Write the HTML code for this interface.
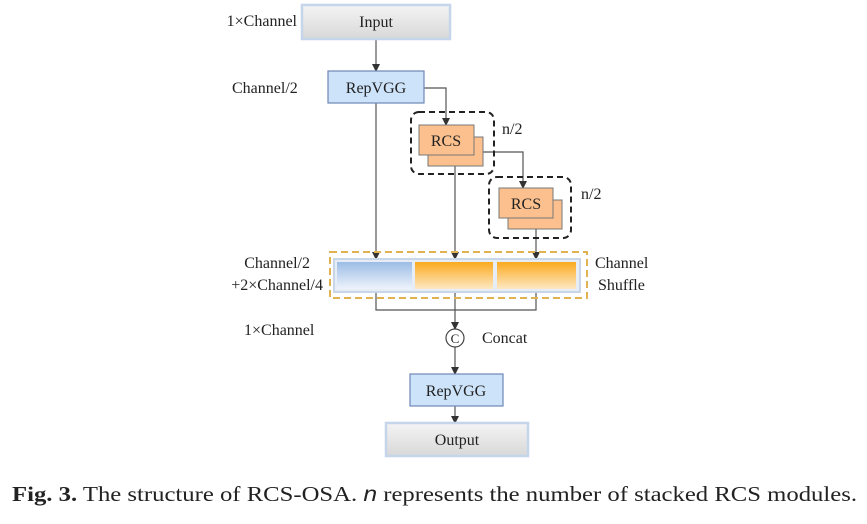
<!DOCTYPE html>
<html><head><meta charset="utf-8"><style>
html,body{margin:0;padding:0;background:#fff;}
svg{display:block;}
text{font-family:"Liberation Serif",serif;fill:#222;}
</style></head><body>
<svg width="867" height="524" viewBox="0 0 867 524" xmlns="http://www.w3.org/2000/svg">
<defs>
<linearGradient id="gray" x1="0" y1="0" x2="0" y2="1"><stop offset="0" stop-color="#f4f4f4"/><stop offset="1" stop-color="#d8d8d8"/></linearGradient>
<linearGradient id="blu" x1="0" y1="0" x2="0" y2="1"><stop offset="0" stop-color="#9dbde6"/><stop offset="1" stop-color="#eef3fb"/></linearGradient>
<linearGradient id="org" x1="0" y1="0" x2="0" y2="1"><stop offset="0" stop-color="#fbaa1e"/><stop offset="1" stop-color="#fde8c4"/></linearGradient>
<marker id="ar" markerWidth="8" markerHeight="8" refX="7" refY="4" orient="auto" markerUnits="userSpaceOnUse"><path d="M0,0 L8,4 L0,8 Z" fill="#333"/></marker>
</defs>
<g stroke="#555" stroke-width="1.2" fill="none">
<line x1="376" y1="39" x2="376" y2="71" marker-end="url(#ar)"/>
<polyline points="424,88 446,88 446,125" marker-end="url(#ar)"/>
<polyline points="483,152 523,152 523,188" marker-end="url(#ar)"/>
<line x1="376" y1="103" x2="376" y2="259" marker-end="url(#ar)"/>
<line x1="455" y1="166" x2="455" y2="259" marker-end="url(#ar)"/>
<line x1="536" y1="229" x2="536" y2="259" marker-end="url(#ar)"/>
<polyline points="376,292 376,310 536,310 536,292"/>
<line x1="455" y1="292" x2="455" y2="329" marker-end="url(#ar)"/>
<line x1="455" y1="347" x2="455" y2="374" marker-end="url(#ar)"/>
<line x1="455" y1="406" x2="455" y2="423" marker-end="url(#ar)"/>
</g>
<rect x="302" y="5" width="148" height="34" fill="url(#gray)" stroke="#c5d6ea" stroke-width="2.5"/>
<text x="376" y="27" font-size="16" text-anchor="middle">Input</text>
<rect x="328" y="71" width="96" height="32" fill="#cde3f9" stroke="#6f87b5" stroke-width="1.2"/>
<text x="376" y="93" font-size="16" text-anchor="middle">RepVGG</text>
<rect x="411" y="112" width="83" height="62" rx="8" fill="none" stroke="#222" stroke-width="2" stroke-dasharray="6,4"/>
<rect x="428" y="137" width="55" height="29" fill="#fbc08e" stroke="#777"/>
<rect x="419" y="125" width="55" height="30" fill="#fbc08e" stroke="#777"/>
<text x="446" y="146" font-size="16" text-anchor="middle">RCS</text>
<text x="502" y="134" font-size="16">n/2</text>
<rect x="489" y="177" width="82" height="61" rx="8" fill="none" stroke="#222" stroke-width="2" stroke-dasharray="6,4"/>
<rect x="508" y="200" width="54" height="29" fill="#fbc08e" stroke="#777"/>
<rect x="499" y="188" width="54" height="30" fill="#fbc08e" stroke="#777"/>
<text x="526" y="209" font-size="16" text-anchor="middle">RCS</text>
<text x="581" y="199" font-size="16">n/2</text>
<rect x="330" y="252" width="257" height="46" fill="none" stroke="#e0b250" stroke-width="2" stroke-dasharray="7,4"/>
<rect x="334" y="259" width="246" height="33" fill="#e6edf6" stroke="#c8d6e8" stroke-width="2"/>
<rect x="337" y="262" width="75" height="27" fill="url(#blu)"/>
<rect x="415" y="262" width="78" height="27" fill="url(#org)"/>
<rect x="497" y="262" width="79" height="27" fill="url(#org)"/>
<circle cx="455" cy="338" r="9" fill="#fff" stroke="#444" stroke-width="1.2"/>
<text x="455" y="343" font-size="13" text-anchor="middle">C</text>
<text x="482" y="343" font-size="16">Concat</text>
<rect x="410" y="374" width="93" height="32" fill="#cde3f9" stroke="#6f87b5" stroke-width="1.2"/>
<text x="456" y="396" font-size="16" text-anchor="middle">RepVGG</text>
<rect x="386" y="423" width="142" height="33" fill="url(#gray)" stroke="#c5d6ea" stroke-width="2.5"/>
<text x="457" y="445" font-size="16" text-anchor="middle">Output</text>
<g font-size="16">
<text x="297" y="26" text-anchor="end">1×Channel</text>
<text x="232" y="93">Channel/2</text>
<text x="310" y="268" text-anchor="end">Channel/2</text>
<text x="323" y="290" text-anchor="end">+2×Channel/4</text>
<text x="595" y="268">Channel</text>
<text x="598" y="290">Shuffle</text>
<text x="244" y="335">1×Channel</text>
</g>
<text x="12" y="501" font-size="21" font-family="Liberation Serif, serif" textLength="845" lengthAdjust="spacingAndGlyphs"><tspan font-weight="bold">Fig. 3.</tspan> The structure of RCS-OSA. <tspan font-style="italic" font-family="Liberation Sans,sans-serif">n</tspan> represents the number of stacked RCS modules.</text>
</svg>
</body></html>
